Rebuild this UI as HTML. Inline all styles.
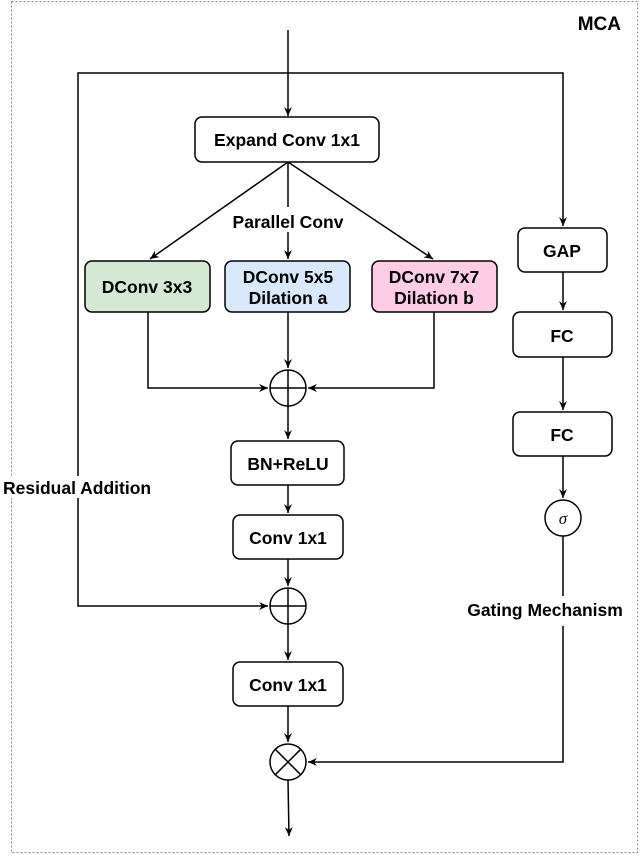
<!DOCTYPE html>
<html><head><style>html,body{margin:0;padding:0;background:#fff}svg{display:block}</style></head>
<body>
<svg width="641" height="856" viewBox="0 0 641 856" xmlns="http://www.w3.org/2000/svg" font-family="Liberation Sans, Arial, sans-serif" font-weight="bold" font-size="17.5">
<defs><marker id="a" markerWidth="10" markerHeight="10" refX="9" refY="5" orient="auto" markerUnits="userSpaceOnUse"><path d="M0,1 L9,5 L0,9 L3,5 Z" fill="#000"/></marker></defs>
<rect x="11.5" y="1.5" width="626" height="851" fill="none" stroke="#888" stroke-dasharray="2,2"/>
<text x="621" y="30" font-size="19" text-anchor="end">MCA</text>
<g stroke="#000" stroke-width="1.5" fill="none">
<line x1="288" y1="30" x2="288" y2="116" marker-end="url(#a)"/>
<polyline points="288,73 78,73 78,606 268,606" marker-end="url(#a)"/>
<polyline points="288,73 563,73 563,226" marker-end="url(#a)"/>
<line x1="288" y1="162" x2="150" y2="259" marker-end="url(#a)"/>
<line x1="288" y1="162" x2="288" y2="207"/>
<line x1="288" y1="232" x2="288" y2="259" marker-end="url(#a)"/>
<line x1="288" y1="162" x2="433" y2="259" marker-end="url(#a)"/>
<polyline points="148,312 148,388 268,388" marker-end="url(#a)"/>
<polyline points="434,312 434,388 308,388" marker-end="url(#a)"/>
<line x1="288" y1="312" x2="288" y2="368" marker-end="url(#a)"/>
<line x1="288" y1="406" x2="288" y2="439" marker-end="url(#a)"/>
<line x1="288" y1="485" x2="288" y2="513" marker-end="url(#a)"/>
<line x1="288" y1="559" x2="288" y2="586" marker-end="url(#a)"/>
<line x1="288" y1="624" x2="288" y2="660" marker-end="url(#a)"/>
<line x1="288" y1="706" x2="288" y2="742" marker-end="url(#a)"/>
<line x1="288" y1="780" x2="289" y2="836" marker-end="url(#a)"/>
<line x1="563" y1="272" x2="563" y2="310" marker-end="url(#a)"/>
<line x1="563" y1="357" x2="563" y2="410" marker-end="url(#a)"/>
<line x1="563" y1="456" x2="563" y2="498" marker-end="url(#a)"/>
<line x1="563" y1="536" x2="563" y2="596"/>
<polyline points="563,626 563,762 308,762" marker-end="url(#a)"/>
<rect x="195" y="117" width="184" height="45" rx="7" fill="#fff"/>
<rect x="85" y="261" width="125" height="51" rx="7" fill="#d5e8d4"/>
<rect x="225" y="261" width="125" height="51" rx="7" fill="#dae8fc"/>
<rect x="372" y="261" width="125" height="51" rx="7" fill="#ffcce6"/>
<rect x="231" y="441" width="113" height="44" rx="7" fill="#fff"/>
<rect x="233" y="515" width="110" height="44" rx="7" fill="#fff"/>
<rect x="233" y="662" width="110" height="44" rx="7" fill="#fff"/>
<rect x="518" y="228" width="89" height="44" rx="7" fill="#fff"/>
<rect x="513" y="312" width="99" height="45" rx="7" fill="#fff"/>
<rect x="513" y="412" width="99" height="44" rx="7" fill="#fff"/>
<circle cx="288" cy="388" r="18" fill="#fff"/>
<path d="M270,388 H306 M288,370 V406"/>
<circle cx="288" cy="606" r="18" fill="#fff"/>
<path d="M270,606 H306 M288,588 V624"/>
<circle cx="288" cy="762" r="18" fill="#fff"/>
<path d="M275.3,749.3 L300.7,774.7 M300.7,749.3 L275.3,774.7"/>
<circle cx="563" cy="518" r="18" fill="#fff"/>
</g>
<rect x="2" y="476" width="156" height="22" fill="#fff"/>
<g text-anchor="middle">
<text x="287" y="146">Expand Conv 1x1</text>
<text x="288" y="228">Parallel Conv</text>
<text x="147" y="293">DConv 3x3</text>
<text x="288" y="283">DConv 5x5</text>
<text x="288" y="304">Dilation a</text>
<text x="434" y="283">DConv 7x7</text>
<text x="434" y="304">Dilation b</text>
<text x="288" y="470">BN+ReLU</text>
<text x="288" y="544">Conv 1x1</text>
<text x="288" y="691">Conv 1x1</text>
<text x="562" y="257">GAP</text>
<text x="562" y="342">FC</text>
<text x="562" y="441">FC</text>
<text x="563" y="524" font-weight="normal" font-style="italic" font-family="Liberation Serif, serif" font-size="17">σ</text>
<text x="545" y="616">Gating Mechanism</text>
</g>
<text x="3" y="494">Residual Addition</text>
</svg>
</body></html>
